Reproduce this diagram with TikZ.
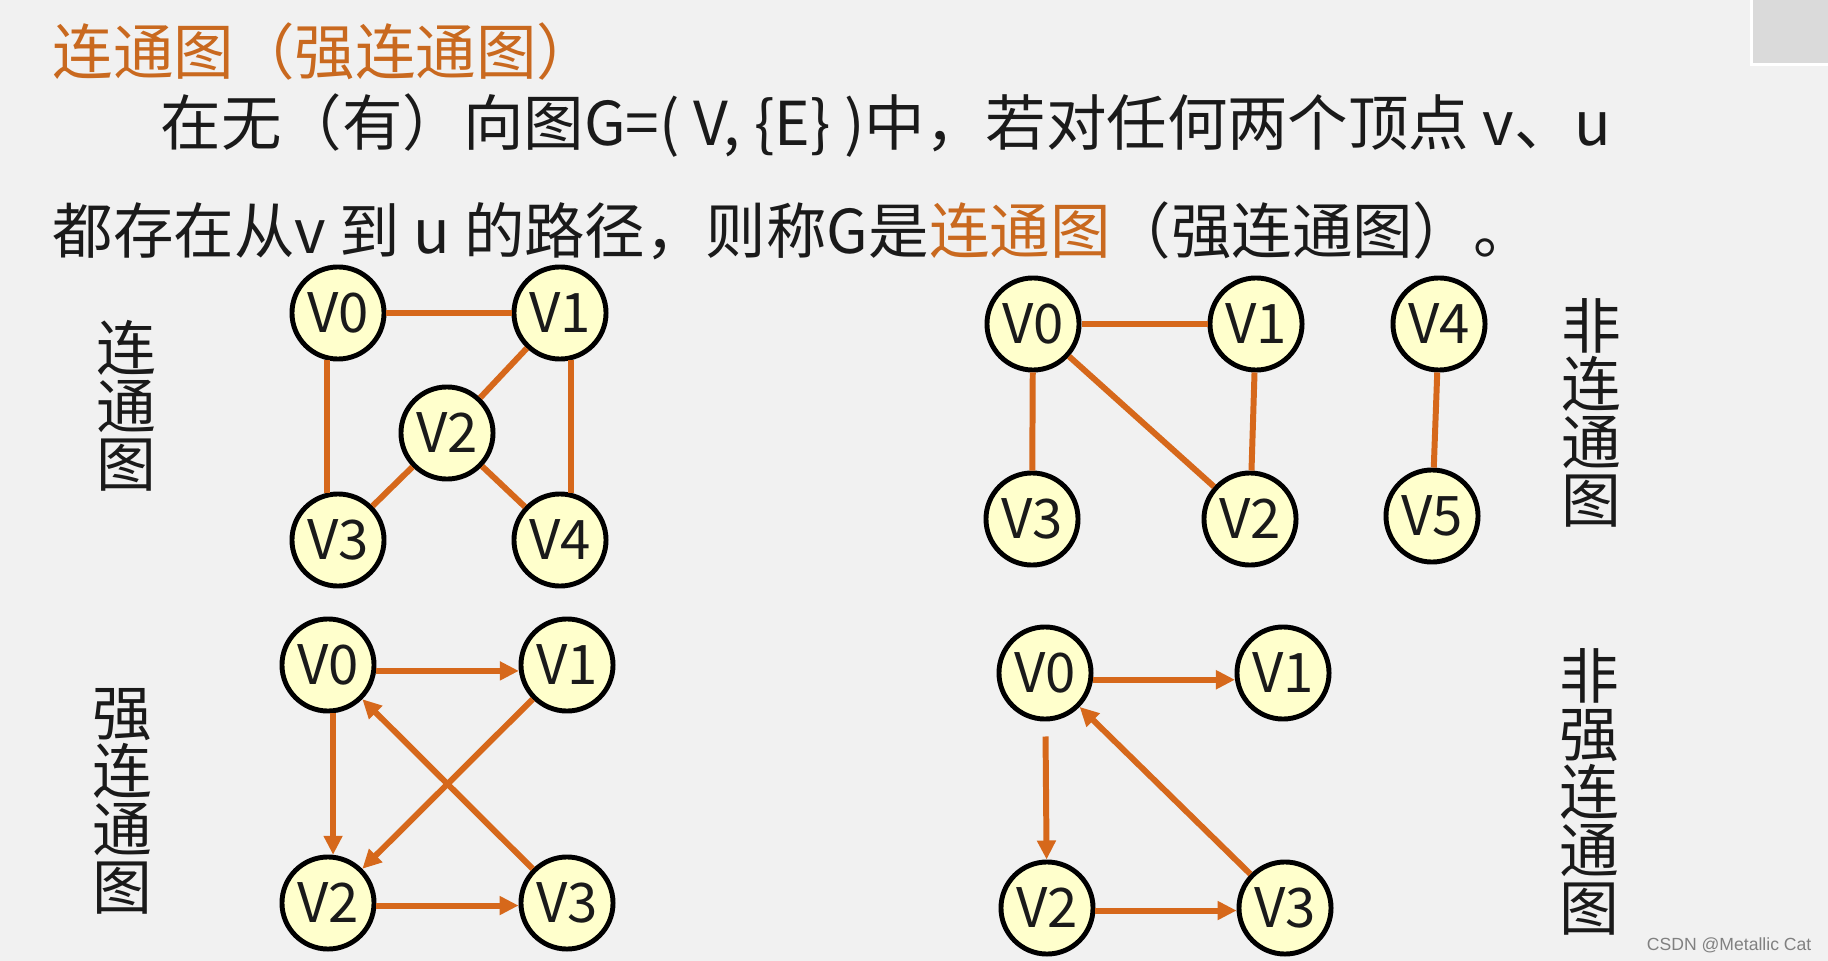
\documentclass[tikz,border=0pt]{standalone}
\usepackage{fontspec}
\setmainfont{Noto Sans CJK SC}
\setsansfont{Liberation Sans}
\usetikzlibrary{arrows.meta}
\definecolor{SlideBg}{HTML}{F1F1F1}
\definecolor{SlideTab}{HTML}{DADADA}
\definecolor{SlideOrange}{HTML}{C9691F}
\definecolor{EdgeOrange}{HTML}{D6681B}
\definecolor{VertexFill}{HTML}{FFFFCC}
\definecolor{SlideInk}{HTML}{1A1A1A}

\begin{document}
\begin{tikzpicture}[x=0.01cm, y=-0.01cm,
  vertex/.style={circle, draw=black, line width=1.4pt, fill=VertexFill,
    minimum size=0.92cm, inner sep=0pt, text=SlideInk,
    font=\fontsize{15.5}{16}\selectfont},
  edge/.style={EdgeOrange, line width=1.7pt},
  arc/.style={edge, -{Triangle[length=0.19cm, width=0.18cm]}},
  side/.style={align=center, text=SlideInk, font=\fontsize{17}{16.5}\selectfont},
  line/.style={anchor=west, inner sep=0pt, text=SlideInk, font=\fontsize{17.2}{19}\selectfont}]
  % slide background
  \fill[SlideBg] (0,0) rectangle (1828,961);
  \fill[white] (1750,0) rectangle (1828,66);
  \fill[SlideTab] (1753,0) rectangle (1828,63);
  % heading and definition
  \node[line, text=SlideOrange] (title) at (52,52) {连通图（强连通图）};
  \node[line] (def1) at (160,126) {在无（有）向图G=( V, \{E\} )中，若对任何两个顶点 v、u};
  \node[line] (def2) at (52,231) {都存在从v 到 u 的路径，则称G是\textcolor{SlideOrange}{连通图}（强连通图）。};
  % connected graph
  \node[side] (lconn) at (126,406) {连\\通\\图};
  \node[vertex] (c0) at (338,313) {V0};
  \node[vertex] (c1) at (560,313) {V1};
  \node[vertex] (c2) at (447,433) {V2};
  \node[vertex] (c3) at (338,540) {V3};
  \node[vertex] (c4) at (560,540) {V4};
  \draw[edge] (c0) -- (c1);
  \draw[edge] (c0.-103) -- (c3.103);
  \draw[edge] (c1.-77) -- (c4.77);
  \draw[edge] (c1) -- (c2);
  \draw[edge] (c2) -- (c3);
  \draw[edge] (c2) -- (c4);
  % not connected
  \node[side] (lnconn) at (1591,413) {非\\连\\通\\图};
  \node[vertex] (n0) at (1033,324) {V0};
  \node[vertex] (n1) at (1256,324) {V1};
  \node[vertex] (n2) at (1250,519) {V2};
  \node[vertex] (n3) at (1032,519) {V3};
  \node[vertex] (n4) at (1439,324) {V4};
  \node[vertex] (n5) at (1432,516) {V5};
  \draw[edge] (n0) -- (n1);
  \draw[edge] (n0) -- (n3);
  \draw[edge] (n0) -- (n2);
  \draw[edge] (n1) -- (n2);
  \draw[edge] (n4) -- (n5);
  % strongly connected
  \node[side] (lstrong) at (122,801) {强\\连\\通\\图};
  \node[vertex] (s0) at (328,665) {V0};
  \node[vertex] (s1) at (567,665) {V1};
  \node[vertex] (s2) at (328,903) {V2};
  \node[vertex] (s3) at (567,903) {V3};
  \draw[arc] (s0.-7) -- (s1.187);
  \draw[arc] (s0.-84) -- (s2.84);
  \draw[arc] (s1) -- (s2);
  \draw[arc] (s3) -- (s0);
  \draw[arc] (s2.-3) -- (s3.183);
  % not strongly connected
  \node[side] (lnstrong) at (1589,792) {非\\强\\连\\通\\图};
  \node[vertex] (w0) at (1045,673) {V0};
  \node[vertex] (w1) at (1283,673) {V1};
  \node[vertex] (w2) at (1047,908) {V2};
  \node[vertex] (w3) at (1285,908) {V3};
  \draw[arc] (w0.-8) -- (w1.188);
  \draw[arc, shorten <=0.15cm] (w0) -- (w2);
  \draw[arc] (w2.-3) -- (w3.183);
  \draw[arc] (w3) -- (w0);
  % watermark
  \node[anchor=east, inner sep=0pt, text=gray, font=\sffamily\fontsize{5}{6}\selectfont] (mark) at (1812,945) {CSDN @Metallic Cat};
\end{tikzpicture}
\end{document}
